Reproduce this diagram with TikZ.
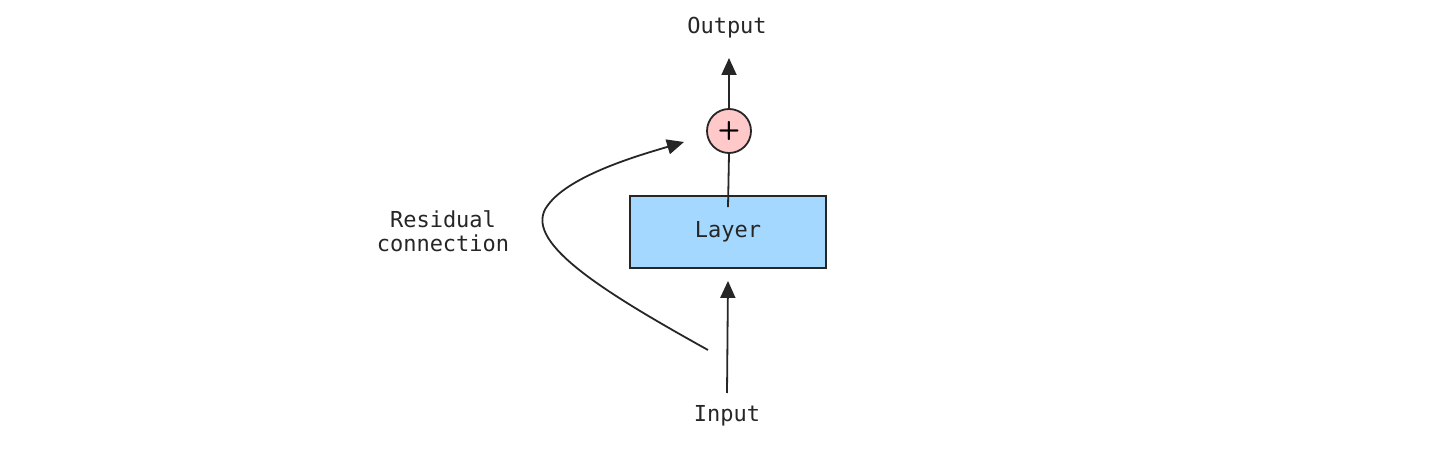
\documentclass[tikz,border=0pt]{standalone}
\usepackage{fontspec}
\setmonofont{DejaVu Sans Mono}
\usetikzlibrary{arrows.meta}
\begin{document}
\begin{tikzpicture}[x=1pt,y=-1pt,
  lbl/.style={font=\ttfamily\fontsize{22}{26}\selectfont, text=black!85},
  conn/.style={line width=1.8pt, draw=black!85, -{Triangle[length=17pt,width=15pt]}},
  plain/.style={line width=1.8pt, draw=black!85}]
\useasboundingbox (0,0) rectangle (1456,449);
\node[lbl] (out) at (727,28) {Output};
\node[lbl] (in) at (727,416) {Input};
\node[lbl, align=center] (res) at (443,231) {Residual\\[-2pt]connection};
\node[draw=black!85, line width=1.8pt, fill={rgb,255:red,165;green,216;blue,255}, minimum width=196pt, minimum height=72pt, lbl] (layer) at (728,232) {Layer};
\node[circle, draw=black!85, line width=1.8pt, fill={rgb,255:red,255;green,201;blue,201}, minimum size=44pt, inner sep=0pt, font=\sffamily\bfseries\fontsize{26}{26}\selectfont] (plus) at (729,131) {+};
\coordinate (inS) at (727,393);
\coordinate (outT) at (729,58);
\coordinate (cS) at (708,350);
\coordinate (cT) at (684,142);
\draw[conn] (inS) -- ([yshift=-12pt]layer.south);
\draw[plain] ([yshift=-12pt]layer.north) -- (plus.south);
\draw[conn] (plus.north) -- (outT);
\draw[conn] (cS) .. controls (600,290) and (520,240) .. (548,205) .. controls (570,175) and (640,155) .. (cT);
\end{tikzpicture}
\end{document}
